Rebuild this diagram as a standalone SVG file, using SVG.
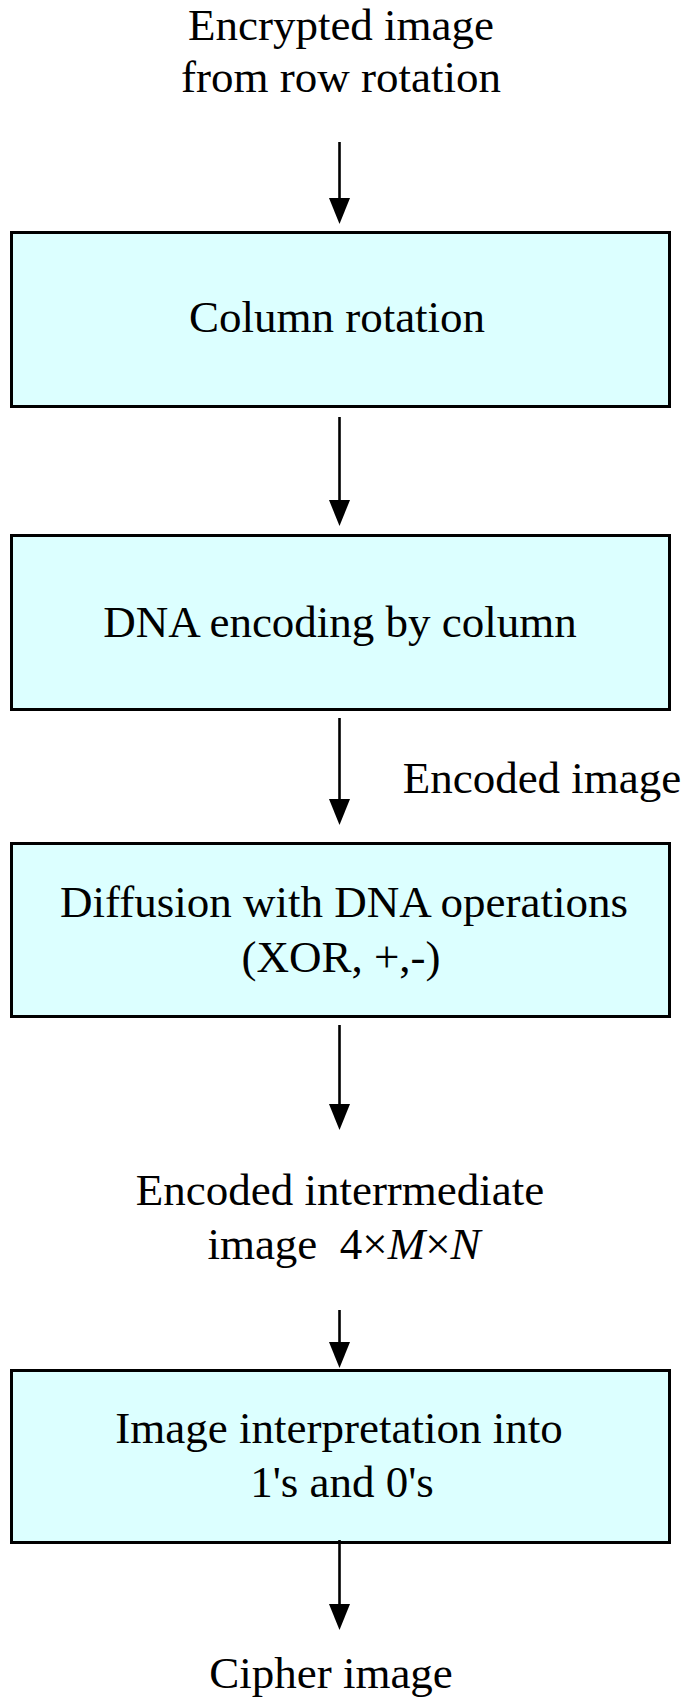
<svg xmlns="http://www.w3.org/2000/svg" width="685" height="1703" viewBox="0 0 685 1703">
  <style>
    .box { fill: #dcffff; stroke: #000; stroke-width: 3; }
    .lbl { font-family: "Liberation Serif", "Times New Roman", serif; font-size: 45px; fill: #000; text-anchor: middle; }
    .conn { stroke: #000; stroke-width: 2.6; fill: none; }
  </style>
  <defs>
    <marker id="ah" markerUnits="userSpaceOnUse" markerWidth="28" markerHeight="22" refX="18" refY="10.5" orient="auto">
      <path d="M0,0 L26,10.5 L0,21 z" fill="#000"/>
    </marker>
  </defs>
  <rect width="685" height="1703" fill="#fff"/>

  <g id="input">
    <text class="lbl" x="341" y="40">Encrypted image</text>
    <text class="lbl" x="341" y="92">from row rotation</text>
  </g>

  <g id="column-rotation">
    <rect class="box" x="11.5" y="232.5" width="658" height="174"/>
    <text class="lbl" x="337" y="332">Column rotation</text>
  </g>

  <g id="dna-encoding">
    <rect class="box" x="11.5" y="535.5" width="658" height="174"/>
    <text class="lbl" x="340" y="637">DNA encoding by column</text>
  </g>

  <g id="encoded-image-label">
    <text class="lbl" x="542" y="793">Encoded image</text>
  </g>

  <g id="diffusion">
    <rect class="box" x="11.5" y="843.5" width="658" height="173"/>
    <text class="lbl" x="344" y="917">Diffusion with DNA operations</text>
    <text class="lbl" x="341" y="972">(XOR, +,-)</text>
  </g>

  <g id="intermediate">
    <text class="lbl" x="340" y="1205">Encoded interrmediate</text>
    <text class="lbl" x="344" y="1259" xml:space="preserve">image  4×<tspan font-style="italic">M</tspan>×<tspan font-style="italic">N</tspan></text>
  </g>

  <g id="interpretation">
    <rect class="box" x="11.5" y="1370.5" width="658" height="172"/>
    <text class="lbl" x="339" y="1443">Image interpretation into</text>
    <text class="lbl" x="342" y="1497">1's and 0's</text>
  </g>

  <g id="output">
    <text class="lbl" x="331" y="1688">Cipher image</text>
  </g>

  <g id="connectors">
    <line class="conn" x1="339.5" y1="142" x2="339.5" y2="216" marker-end="url(#ah)"/>
    <line class="conn" x1="339.5" y1="417" x2="339.5" y2="518" marker-end="url(#ah)"/>
    <line class="conn" x1="339.5" y1="718" x2="339.5" y2="817" marker-end="url(#ah)"/>
    <line class="conn" x1="339.5" y1="1025" x2="339.5" y2="1122" marker-end="url(#ah)"/>
    <line class="conn" x1="339.5" y1="1310" x2="339.5" y2="1360" marker-end="url(#ah)"/>
    <line class="conn" x1="339.5" y1="1540" x2="339.5" y2="1622" marker-end="url(#ah)"/>
  </g>
</svg>
